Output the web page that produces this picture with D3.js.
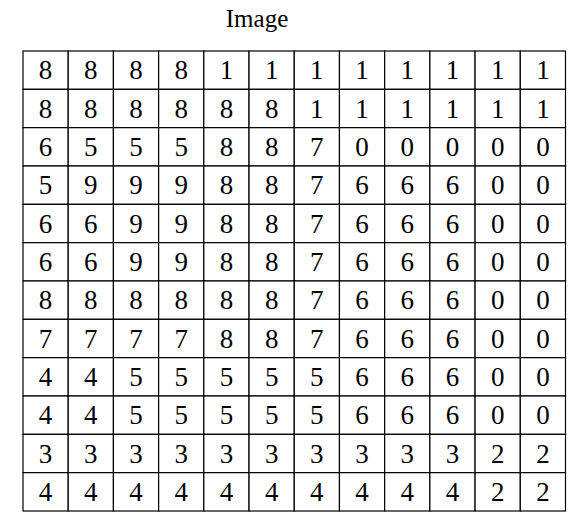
<!DOCTYPE html>
<html>
<head>
<meta charset="utf-8">
<script src="https://cdn.jsdelivr.net/npm/d3@7"></script>
<style>
  body { margin: 0; background: #fff; }
  svg { display: block; }
</style>
</head>
<body>
<svg id="chart" width="588" height="522"></svg>
<script>
'use strict';

var title = 'Image';

var row1 = [8, 8, 8, 8, 1, 1, 1, 1, 1, 1, 1, 1],
    row2 = [8, 8, 8, 8, 8, 8, 1, 1, 1, 1, 1, 1],
    row3 = [6, 5, 5, 5, 8, 8, 7, 0, 0, 0, 0, 0],
    row4 = [5, 9, 9, 9, 8, 8, 7, 6, 6, 6, 0, 0],
    row5 = [6, 6, 9, 9, 8, 8, 7, 6, 6, 6, 0, 0],
    row6 = [6, 6, 9, 9, 8, 8, 7, 6, 6, 6, 0, 0],
    row7 = [8, 8, 8, 8, 8, 8, 7, 6, 6, 6, 0, 0],
    row8 = [7, 7, 7, 7, 8, 8, 7, 6, 6, 6, 0, 0],
    row9 = [4, 4, 5, 5, 5, 5, 5, 6, 6, 6, 0, 0],
    row10 = [4, 4, 5, 5, 5, 5, 5, 6, 6, 6, 0, 0],
    row11 = [3, 3, 3, 3, 3, 3, 3, 3, 3, 3, 2, 2],
    row12 = [4, 4, 4, 4, 4, 4, 4, 4, 4, 4, 2, 2];

var rows = [row1, row2, row3, row4, row5, row6, row7, row8, row9, row10, row11, row12];

var svg = d3.select('#chart'),
    gridLeft = 23, gridRight = 565.5, gridTop = 51, gridBottom = 511;

var x = d3.scaleBand().domain(d3.range(12)).range([gridLeft, gridRight]),
    y = d3.scaleBand().domain(d3.range(rows.length)).range([gridTop, gridBottom]);

svg.append('text')
    .attr('x', 257).attr('y', 27)
    .attr('text-anchor', 'middle')
    .style('font-family', 'Liberation Serif')
    .style('font-size', '25px')
    .text(title);

var cells = [];
rows.forEach(function (r, i) {
    r.forEach(function (v, j) { cells.push({ r: i, c: j, v: v }); });
});

var g = svg.selectAll('g.cell').data(cells).enter().append('g').attr('class', 'cell');

g.append('rect')
    .attr('x', function (d) { return x(d.c); })
    .attr('y', function (d) { return y(d.r); })
    .attr('width', x.bandwidth())
    .attr('height', y.bandwidth())
    .attr('fill', '#fff')
    .attr('stroke', '#000')
    .attr('stroke-width', 1.2);

g.append('text')
    .attr('x', function (d) { return x(d.c) + x.bandwidth() / 2; })
    .attr('y', function (d) { return y(d.r) + y.bandwidth() / 2 + 9; })
    .attr('text-anchor', 'middle')
    .style('font-family', 'Liberation Serif')
    .style('font-size', '27px')
    .text(function (d) { return d.v; });
</script>
</body>
</html>
